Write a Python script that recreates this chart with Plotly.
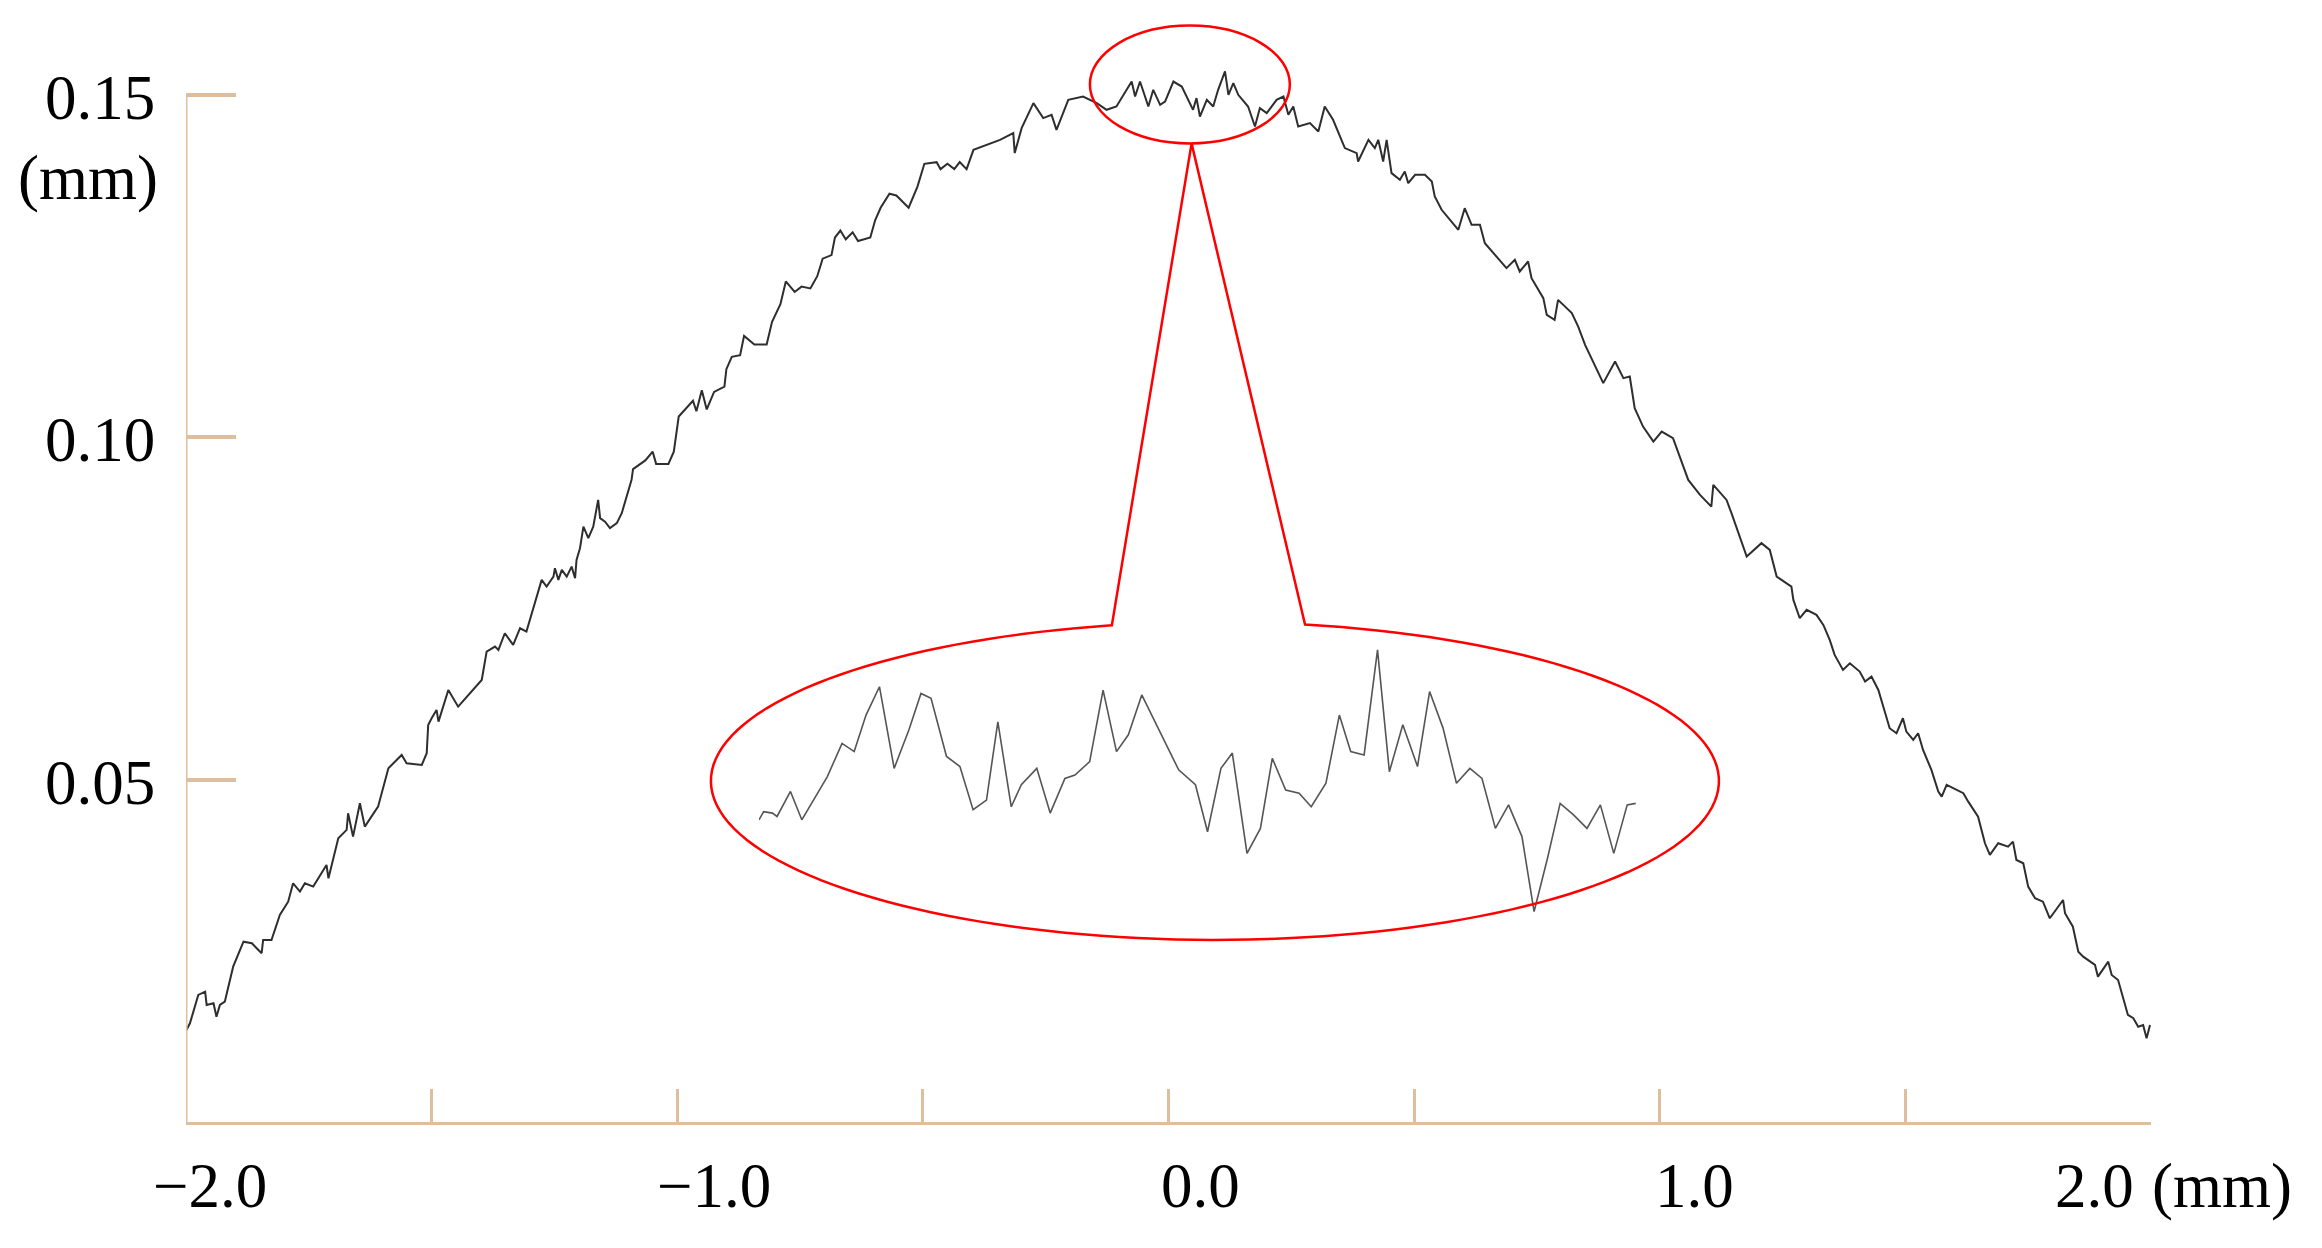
import numpy as np
import plotly.graph_objects as go

# surface profile (mm)
profile_x = [
  -1.999, -1.992, -1.975, -1.961, -1.958, -1.944, -1.938, -1.931, -1.921, -1.904,
  -1.883, -1.866, -1.846, -1.843, -1.826, -1.809, -1.792, -1.782, -1.768, -1.758,
  -1.741, -1.714, -1.710, -1.690, -1.673, -1.670, -1.660, -1.646, -1.636, -1.622,
  -1.609, -1.588, -1.561, -1.551, -1.520, -1.510, -1.507, -1.500, -1.490, -1.486,
  -1.466, -1.446, -1.425, -1.398, -1.388, -1.371, -1.364, -1.351, -1.334, -1.320,
  -1.307, -1.300, -1.293,
  -1.283, -1.276, -1.266, -1.252, -1.249, -1.242, -1.235, -1.225, -1.215, -1.208,
  -1.205, -1.198, -1.191, -1.181, -1.171, -1.161, -1.157, -1.147, -1.137, -1.123,
  -1.113, -1.103, -1.093,
  -1.090, -1.065, -1.050, -1.043, -1.018, -1.007, -0.997, -0.968, -0.961, -0.950,
  -0.940, -0.925, -0.904, -0.900, -0.889, -0.872, -0.864, -0.843, -0.818, -0.807,
  -0.790, -0.779, -0.761, -0.747, -0.729, -0.715, -0.704, -0.686, -0.679, -0.668,
  -0.657, -0.643, -0.632, -0.607, -0.597, -0.586, -0.568, -0.554, -0.529, -0.511,
  -0.497, -0.472, -0.464, -0.450, -0.436, -0.425, -0.411, -0.397,
  -0.343, -0.316, -0.313, -0.299, -0.275, -0.255, -0.238, -0.228, -0.204, -0.174,
  -0.146, -0.126, -0.106, -0.075, -0.068, -0.058, -0.041, -0.031, -0.017, -0.007,
  0.010, 0.027, 0.050, 0.057, 0.064, 0.078, 0.091, 0.101, 0.115, 0.122,
  0.132, 0.142, 0.162, 0.176, 0.186, 0.200, 0.220, 0.234, 0.244, 0.254,
  0.264, 0.288, 0.305, 0.318, 0.335, 0.359, 0.383, 0.386, 0.407, 0.420,
  0.427, 0.437, 0.444, 0.454, 0.471, 0.481, 0.488, 0.502, 0.522, 0.536,
  0.542, 0.556, 0.590, 0.603, 0.617, 0.634, 0.644, 0.671, 0.688, 0.705,
  0.715, 0.732, 0.739, 0.763, 0.770, 0.786, 0.793, 0.821, 0.834, 0.848,
  0.868, 0.885, 0.909, 0.926, 0.939, 0.949, 0.966, 0.987, 1.004, 1.027,
  1.058, 1.082, 1.105, 1.109, 1.136, 1.146, 1.177, 1.207, 1.224, 1.238,
  1.268, 1.272, 1.285, 1.299, 1.319, 1.333, 1.346, 1.356, 1.373, 1.387,
  1.407, 1.418, 1.431, 1.445, 1.468, 1.482, 1.495, 1.502, 1.516, 1.526,
  1.536, 1.553, 1.567, 1.574, 1.584, 1.618, 1.628, 1.648, 1.662, 1.672,
  1.689, 1.709, 1.719, 1.726, 1.740, 1.750, 1.764, 1.780, 1.794, 1.804,
  1.821, 1.825, 1.841, 1.852, 1.862, 1.886, 1.892, 1.913, 1.920, 1.933,
  1.953, 1.964, 1.974, 1.984, 1.991, 1.998,
]
profile_y = [
  0.01344, 0.01441, 0.01855, 0.01903, 0.01709, 0.01734, 0.01538, 0.01709, 0.01757, 0.02268,
  0.02633, 0.02610, 0.02464, 0.02658, 0.02658, 0.03023, 0.03217, 0.03486, 0.03364, 0.03486,
  0.03437, 0.03753, 0.03559, 0.04143, 0.04265, 0.04508, 0.04167, 0.04655, 0.04313, 0.04459,
  0.04605, 0.05166, 0.05360, 0.05239, 0.05214, 0.05385, 0.05798, 0.05896, 0.06017, 0.05846,
  0.06309, 0.06065, 0.06236, 0.06455, 0.06869, 0.06942, 0.06893, 0.07137, 0.06967, 0.07210,
  0.07161, 0.07332, 0.07526,
  0.07770, 0.07916, 0.07818, 0.07964, 0.08087, 0.07916, 0.08062, 0.07964, 0.08110, 0.07941,
  0.08208, 0.08379, 0.08694, 0.08525, 0.08694, 0.09084, 0.08817, 0.08767, 0.08671, 0.08744,
  0.08890, 0.09132, 0.09376,
  0.09533, 0.09661, 0.09788, 0.09610, 0.09610, 0.09788, 0.10301, 0.10532, 0.10378, 0.10685,
  0.10405, 0.10660, 0.10738, 0.10993, 0.11173, 0.11198, 0.11479, 0.11352, 0.11352, 0.11685,
  0.11941, 0.12274, 0.12121, 0.12198, 0.12172, 0.12351, 0.12607, 0.12658, 0.12915, 0.13017,
  0.12889, 0.12991, 0.12864, 0.12915, 0.13171, 0.13350, 0.13555, 0.13530, 0.13350, 0.13659,
  0.13992, 0.14016, 0.13914, 0.13992, 0.13914, 0.14016, 0.13914, 0.14196,
  0.14342, 0.14440, 0.14148, 0.14513, 0.14878, 0.14659, 0.14707, 0.14488, 0.14926, 0.14974,
  0.14878, 0.14780, 0.14828, 0.15193, 0.14974, 0.15193, 0.14828, 0.15072, 0.14853, 0.14901,
  0.15193, 0.15120, 0.14780, 0.14951, 0.14682, 0.14926, 0.14828, 0.15072, 0.15340, 0.14999,
  0.15170, 0.14999, 0.14828, 0.14536, 0.14805, 0.14732, 0.14926, 0.14974, 0.14707, 0.14828,
  0.14536, 0.14586, 0.14463, 0.14828, 0.14634, 0.14221, 0.14148, 0.14025, 0.14342, 0.14221,
  0.14342, 0.14025, 0.14342, 0.13856, 0.13758, 0.13879, 0.13710, 0.13831, 0.13831, 0.13733,
  0.13514, 0.13320, 0.13028, 0.13344, 0.13101, 0.13101, 0.12833, 0.12614, 0.12468, 0.12589,
  0.12419, 0.12565, 0.12322, 0.12030, 0.11786, 0.11713, 0.12005, 0.11811, 0.11615, 0.11348,
  0.11056, 0.10789, 0.11104, 0.10862, 0.10885, 0.10424, 0.10155, 0.09936, 0.10082, 0.09985,
  0.09376, 0.09157, 0.08986, 0.09303, 0.09084, 0.08890, 0.08256, 0.08452, 0.08354, 0.07964,
  0.07818, 0.07624, 0.07356, 0.07478, 0.07405, 0.07259, 0.07040, 0.06821, 0.06601, 0.06699,
  0.06577, 0.06431, 0.06504, 0.06309, 0.05750, 0.05677, 0.05896, 0.05700, 0.05579, 0.05677,
  0.05433, 0.05141, 0.04824, 0.04751, 0.04922, 0.04801, 0.04678, 0.04459, 0.04070, 0.03900,
  0.04070, 0.04021, 0.04094, 0.03826, 0.03778, 0.03437, 0.03267, 0.03217, 0.02975, 0.03071,
  0.03242, 0.03048, 0.02852, 0.02487, 0.02414, 0.02293, 0.02122, 0.02341, 0.02147, 0.02074,
  0.01563, 0.01515, 0.01392, 0.01417, 0.01222, 0.01417,
]

# magnified view of the top of the profile (mm)
inset_x = [
  -0.1200, -0.1182, -0.1148, -0.1130, -0.1078, -0.1034, -0.0935, -0.0878, -0.0831, -0.0785,
  -0.0733, -0.0676, -0.0619, -0.0572, -0.0533, -0.0473, -0.0421, -0.0370, -0.0318, -0.0274,
  -0.0222, -0.0183, -0.0123, -0.0071, -0.0014, 0.0025, 0.0082, 0.0134, 0.0186, 0.0232,
  0.0284, 0.0427, 0.0492, 0.0539, 0.0591, 0.0635, 0.0692, 0.0744, 0.0790, 0.0842,
  0.0894, 0.0941, 0.0998, 0.1050, 0.1094, 0.1146, 0.1198, 0.1244, 0.1296, 0.1353,
  0.1400, 0.1452, 0.1504, 0.1556, 0.1603, 0.1655, 0.1706, 0.1758, 0.1805, 0.1857,
  0.1906, 0.1958, 0.2010, 0.2062, 0.2114, 0.2166, 0.2199,
]
inset_y = [
  0.14847, 0.14869, 0.14865, 0.14856, 0.14923, 0.14847, 0.14963, 0.15052, 0.15030, 0.15128,
  0.15204, 0.14985, 0.15088, 0.15186, 0.15173, 0.15017, 0.14990, 0.14874, 0.14900, 0.15110,
  0.14882, 0.14941, 0.14985, 0.14865, 0.14958, 0.14967, 0.15003, 0.15195, 0.15030, 0.15075,
  0.15182, 0.14981, 0.14941, 0.14815, 0.14985, 0.15026, 0.14757, 0.14824, 0.15012, 0.14927,
  0.14918, 0.14882, 0.14945, 0.15128, 0.15030, 0.15021, 0.15303, 0.14976, 0.15102, 0.14990,
  0.15191, 0.15093, 0.14945, 0.14985, 0.14958, 0.14824, 0.14887, 0.14802, 0.14601, 0.14744,
  0.14891, 0.14860, 0.14824, 0.14887, 0.14757, 0.14887, 0.14891,
]

x_ticks = [-2.0, -1.5, -1.0, -0.5, 0.0, 0.5, 1.0, 1.5, 2.0]
x_label_vals = [-2.0, -1.0, 0.0, 1.0, 2.0]
x_label_text = ["\u22122.0", "\u22121.0", "0.0", "1.0", "2.0"]
x_label_shift = [24, 37, 32, 35, -57]
y_ticks = [0.05, 0.10, 0.15]
y_label_text = ["0.05", "0.10", "0.15"]
unit = "(mm)"

AXIS = "#DDBF9F"
FONT = dict(family="Liberation Serif, Times New Roman, serif", size=63, color="black")

fig = go.Figure()
fig.add_trace(go.Scatter(x=profile_x, y=profile_y, mode="lines",
                         line=dict(color="#2e2e2e", width=2), showlegend=False))
fig.add_trace(go.Scatter(x=inset_x, y=inset_y, mode="lines", xaxis="x2", yaxis="y2",
                         line=dict(color="#555555", width=1.6), showlegend=False))

# callout: small ellipse on the peak, bubble with pointer round the inset
small = dict(x0=-0.160, x1=0.247, y0=0.1429, y1=0.1601)
apex = (0.047, 0.1429)
xc, yc, rx, ry = 0.0945, 0.0498, 1.026, 0.02321
t = np.radians(np.linspace(101.8, 439.7, 160))
ex = xc + rx*np.cos(t)
ey = yc + ry*np.sin(t)
path = "M " + " L ".join("%.5f,%.6f" % (a, b) for a, b in zip(ex, ey))
path += " L %.5f,%.6f Z" % apex

shapes = [
  dict(type="line", xref="x", yref="y", x0=-2, x1=-2, y0=0, y1=0.15,
       line=dict(color=AXIS, width=3)),
  dict(type="circle", xref="x", yref="y", line=dict(color="red", width=2.5), **small),
  dict(type="path", xref="x", yref="y", path=path, line=dict(color="red", width=2.5)),
]

annotations = []
for v, txt, dx in zip(x_label_vals, x_label_text, x_label_shift):
  annotations.append(dict(x=v, y=0, xref="x", yref="y", text=txt, showarrow=False,
                          xanchor="center", yanchor="middle", xshift=dx, yshift=-64, font=FONT))
annotations.append(dict(x=2, y=0, xref="x", yref="y", text=unit, showarrow=False,
                        xanchor="left", yanchor="middle", xshift=-1, yshift=-64, font=FONT))
for v, txt in zip(y_ticks, y_label_text):
  annotations.append(dict(x=-2, y=v, xref="x", yref="y", text=txt, showarrow=False,
                          xanchor="right", yanchor="middle", xshift=-29, yshift=-3, font=FONT))
annotations.append(dict(x=-2, y=0.15, xref="x", yref="y", text=unit, showarrow=False,
                        xanchor="right", yanchor="middle", xshift=-26, yshift=-83, font=FONT))

# page body adds an 8px offset, margins are trimmed to compensate
fig.update_layout(
  width=2322, height=1248,
  margin=dict(l=178, r=179, t=8, b=134),
  paper_bgcolor="white", plot_bgcolor="rgba(0,0,0,0)",
  xaxis=dict(range=[-2, 2], showgrid=False, zeroline=False, showline=True,
             linecolor=AXIS, linewidth=3, ticks="inside", tickvals=x_ticks,
             ticklen=33, tickwidth=3, tickcolor=AXIS, showticklabels=False),
  yaxis=dict(range=[0, 0.1615], showgrid=False, zeroline=False, showline=False,
             ticks="inside", tickvals=y_ticks, ticklen=50, tickwidth=4,
             tickcolor=AXIS, showticklabels=False),
  xaxis2=dict(domain=[0.2916, 0.7379], range=[-0.12, 0.22], anchor="y2", visible=False),
  yaxis2=dict(domain=[0.16908, 0.45389], range=[0.14538, 0.15383], anchor="x2", visible=False),
  shapes=shapes,
  annotations=annotations,
)

fig.write_html("out.html")
